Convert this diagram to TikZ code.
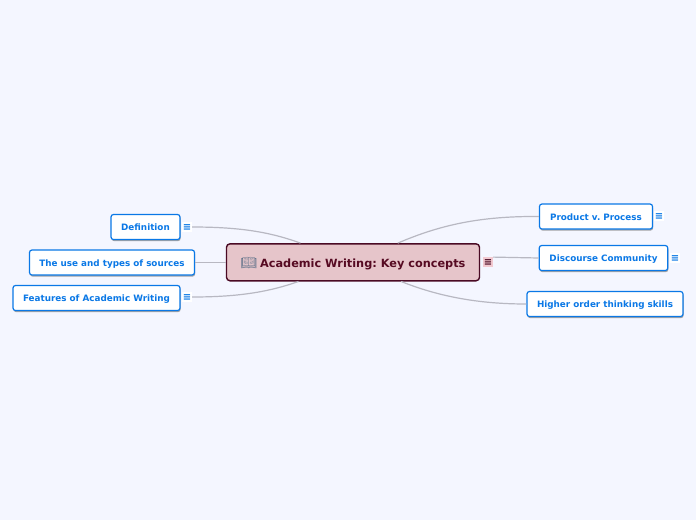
\documentclass[tikz,border=0pt]{standalone}
\usepackage{fontspec}
\setmainfont{DejaVu Sans}
\newfontfamily\emojifont{Noto Emoji}
\usetikzlibrary{shadows}
\frenchspacing
\definecolor{pagebg}{HTML}{F4F6FF}
\definecolor{topicblue}{HTML}{0A78E6}
\definecolor{rootline}{HTML}{4A0A24}
\definecolor{roottext}{HTML}{560A22}
\definecolor{rootfill}{HTML}{E6C5CA}
\definecolor{rootnote}{HTML}{F2C9D0}
\definecolor{branchgrey}{HTML}{B8B8C2}
\definecolor{bookgrey}{HTML}{5F7189}
\tikzset{
  topic/.style={draw=topicblue, line width=1.2pt, fill=white, rounded corners=2.5pt,
    text=topicblue, font=\bfseries\fontsize{8.8}{10}\selectfont, minimum height=25pt,
    text height=8pt, text depth=0.4pt, inner sep=0pt,
    drop shadow={shadow xshift=0.6pt, shadow yshift=-1.6pt, opacity=0.7}},
  note/.style={fill=white, text=topicblue, font=\bfseries\fontsize{10}{11}\selectfont,
    inner sep=0pt, minimum width=10pt, minimum height=10pt,
    text height=7pt, text depth=0pt},
  branch/.style={draw=branchgrey, line width=1.2pt}
}
\begin{document}
\begin{tikzpicture}[x=1pt,y=-1pt]
  \useasboundingbox[fill=pagebg] (0,0) rectangle (696,520);
  \node[draw=rootline, line width=1.4pt, fill=rootfill, rounded corners=3.5pt,
    minimum width=253pt, minimum height=37pt, inner sep=0pt, text=roottext,
    text height=10pt, text depth=0.5pt,
    font=\bfseries\fontsize{11.3}{12}\selectfont] (central) at (353,262.3)
    {{\emojifont\fontsize{13}{13}\selectfont\textcolor{bookgrey}{\char"1F4D6}}\hspace{3pt}Academic Writing: Key concepts};
  \node[note, fill=rootnote, text=rootline] (centralnote) at (488,262.3) {≡};
  % left side
  \node[topic, minimum width=69pt] (definition) at (145.5,227) {Definition};
  \node[note] (definitionnote) at (187,227) {≡};
  \node[topic, minimum width=165pt] (sources) at (112,262.5) {The use and types of sources};
  \node[topic, minimum width=167pt] (features) at (96.5,298) {Features of Academic Writing};
  \node[note] (featuresnote) at (187,297) {≡};
  % right side
  \node[topic, minimum width=113pt] (product) at (596,216.5) {Product v. Process};
  \node[note] (productnote) at (659,216) {≡};
  \node[topic, minimum width=128.5pt] (discourse) at (603.5,258) {Discourse Community};
  \node[note] (discoursenote) at (675,258) {≡};
  \node[topic, minimum width=156pt] (higher) at (605,304) {Higher order thinking skills};
  % branches
  \draw[branch] (definitionnote.east) .. controls (240,227) and (270,232) .. (central);
  \draw[branch] (sources.east) -- (central.west |- sources.east);
  \draw[branch] (featuresnote.east) .. controls (240,297) and (270,291.5) .. (central);
  \draw[branch] (product.west) .. controls (480,216) and (440,225) .. (central);
  \draw[branch] (centralnote.north east) -- (discourse.west);
  \draw[branch] (higher.west) .. controls (480,304) and (440,297) .. (central);
\end{tikzpicture}
\end{document}
